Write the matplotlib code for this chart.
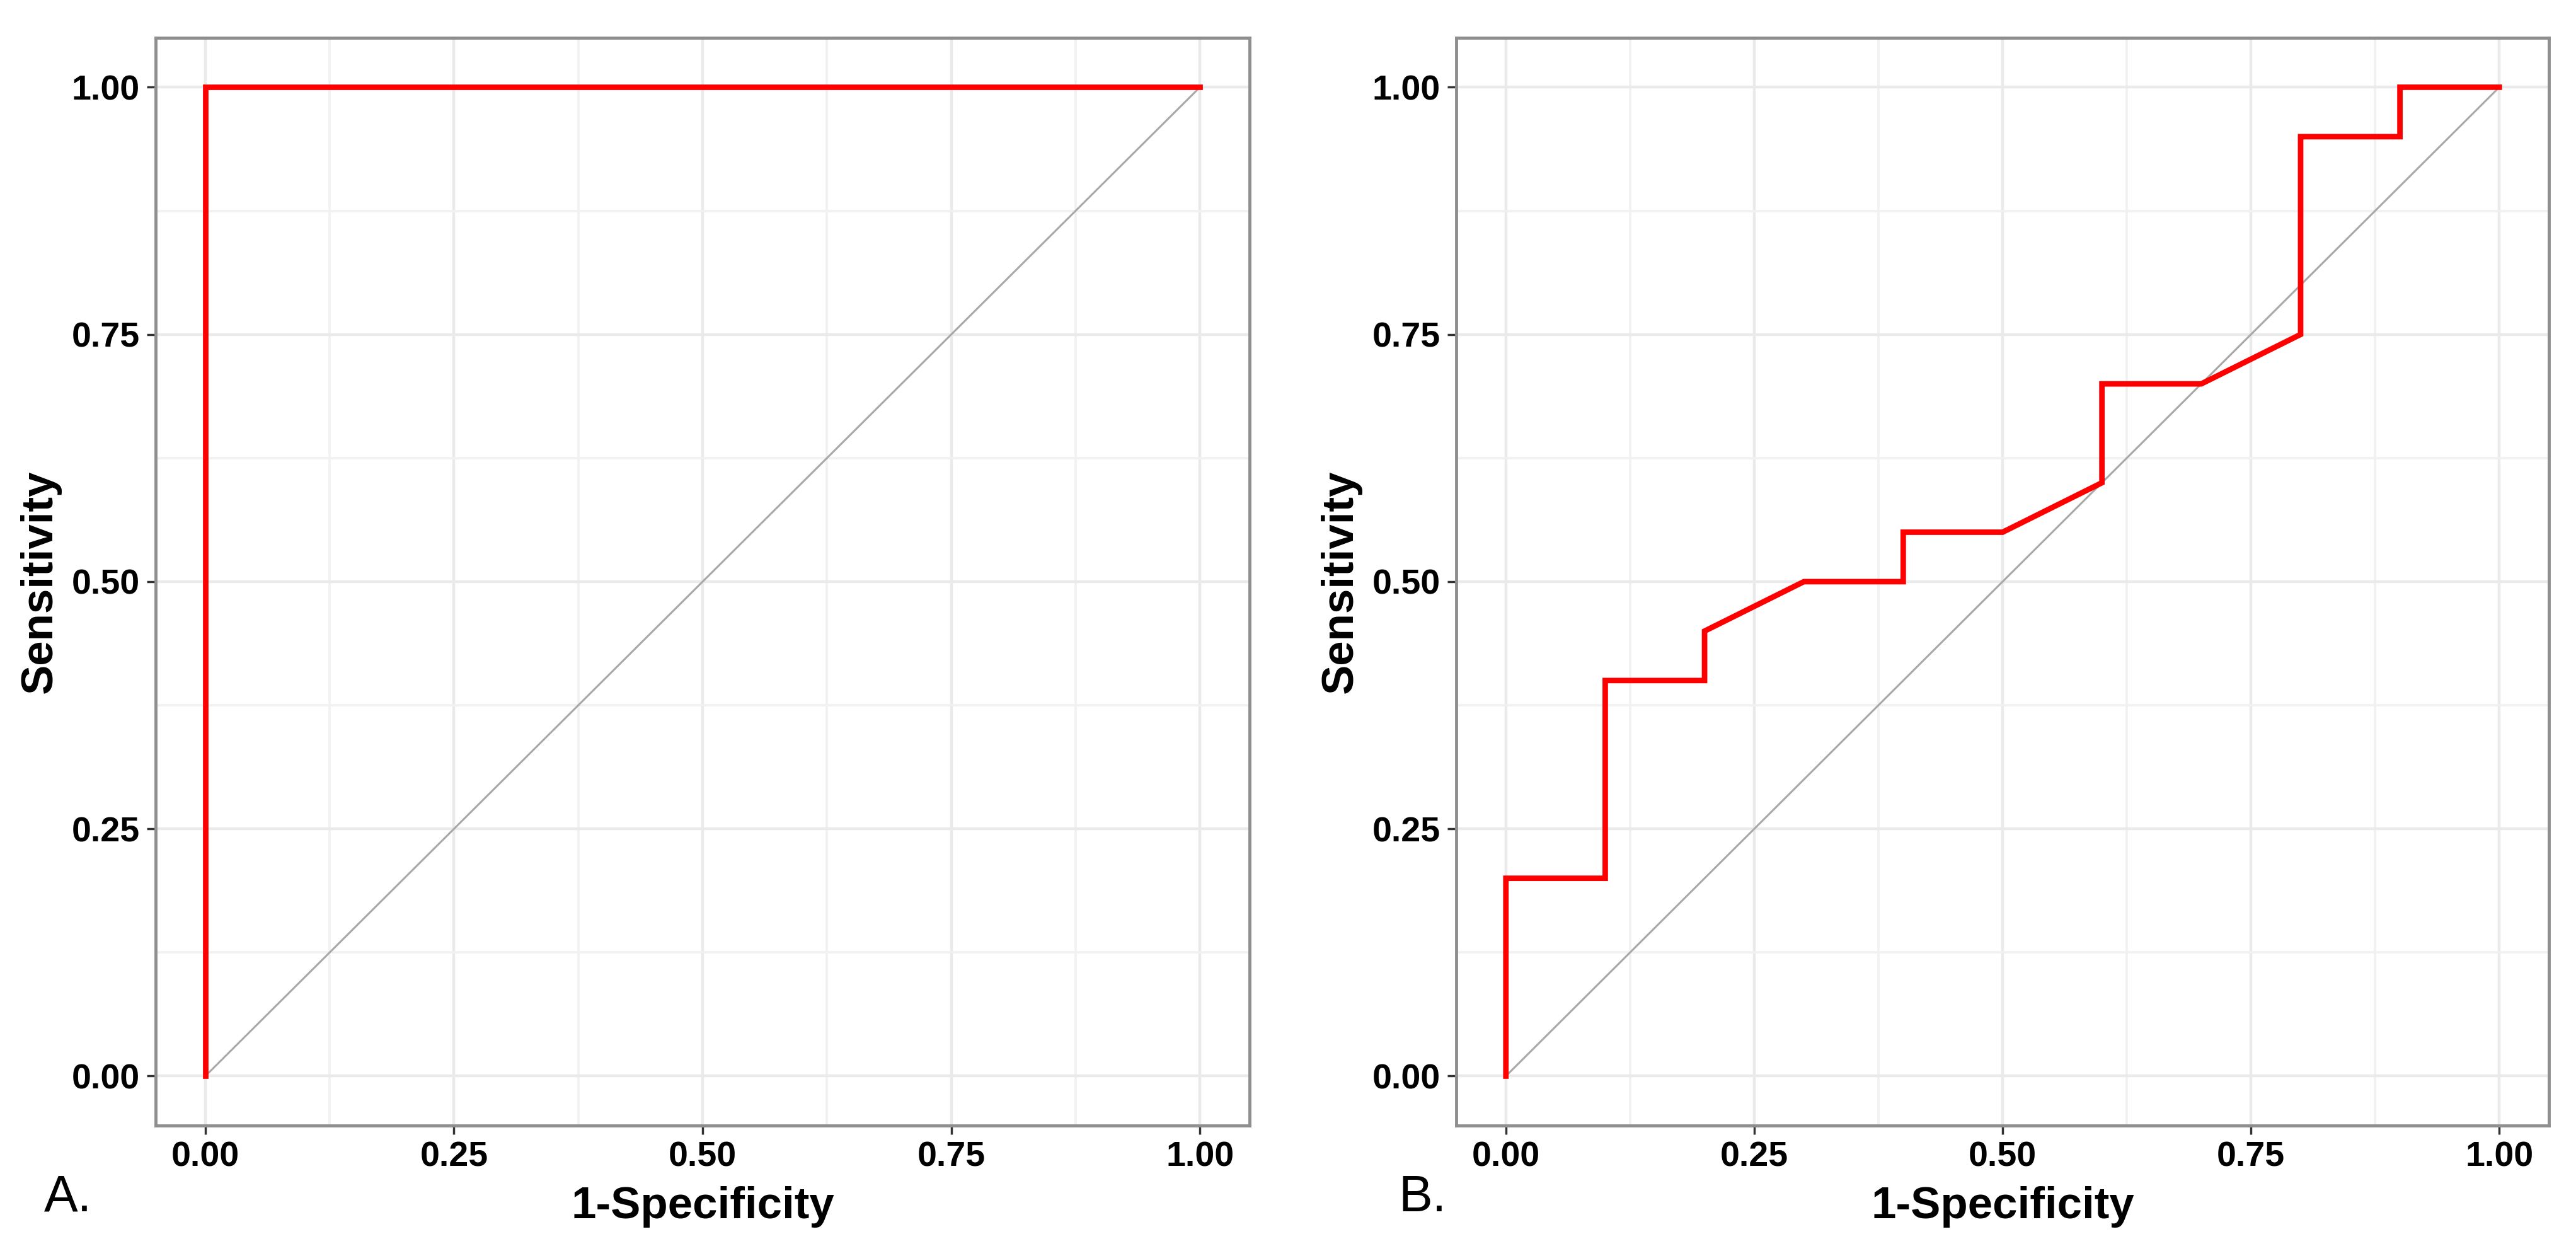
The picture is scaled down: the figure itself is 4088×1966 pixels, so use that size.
import matplotlib.pyplot as plt
import numpy as np

plt.rcParams['font.family'] = ['Liberation Sans', 'DejaVu Sans']

# ROC curve A: perfect classifier
fpr_a = [0.0, 0.0, 1.0]
tpr_a = [0.0, 1.0, 1.0]

# ROC curve B
fpr_b = [0.0, 0.0, 0.1, 0.1, 0.2, 0.2, 0.3, 0.4, 0.4, 0.5, 0.6, 0.6, 0.7, 0.8, 0.8, 0.9, 0.9, 1.0]
tpr_b = [0.0, 0.2, 0.2, 0.4, 0.4, 0.45, 0.5, 0.5, 0.55, 0.55, 0.6, 0.7, 0.7, 0.75, 0.95, 0.95, 1.0, 1.0]

ticks = [0.0, 0.25, 0.50, 0.75, 1.00]
tick_labels = ['0.00', '0.25', '0.50', '0.75', '1.00']
panel_labels = ['A.', 'B.']

fig = plt.figure(figsize=(40.88, 19.66), dpi=100)
ax_a = fig.add_axes([0.0604, 0.0916, 0.4247, 0.8779])
ax_b = fig.add_axes([0.5653, 0.0916, 0.4242, 0.8779])

for ax, fpr, tpr in [(ax_a, fpr_a, tpr_a), (ax_b, fpr_b, tpr_b)]:
    ax.set_xlim(-0.05, 1.05)
    ax.set_ylim(-0.05, 1.05)
    ax.set_xticks(ticks)
    ax.set_yticks(ticks)
    ax.set_xticks(np.arange(0.125, 1.0, 0.25), minor=True)
    ax.set_yticks(np.arange(0.125, 1.0, 0.25), minor=True)
    ax.set_xticklabels(tick_labels, fontsize=40, fontweight='bold')
    ax.set_yticklabels(tick_labels, fontsize=40, fontweight='bold')
    ax.grid(True, which='major', color='#EAEAEA', linewidth=3.2)
    ax.grid(True, which='minor', color='#F1F1F1', linewidth=2.6)
    ax.set_axisbelow(True)
    ax.tick_params(which='major', length=10, width=2.5, color='#333333', pad=8)
    ax.tick_params(which='minor', length=0)
    for sp in ax.spines.values():
        sp.set_color('#8F8F8F')
        sp.set_linewidth(3.5)

    ax.plot([0, 1], [0, 1], color='#A8A8A8', linewidth=2.2, zorder=2)
    ax.plot(fpr, tpr, color='#FF0000', linewidth=6.3, zorder=3,
            solid_joinstyle='miter')

    ax.set_xlabel('1-Specificity', fontsize=51, fontweight='bold', labelpad=14)
    ax.set_ylabel('Sensitivity', fontsize=51, fontweight='bold', labelpad=12)

fig.text(0.0171, 0.0224, panel_labels[0], fontsize=58, ha='left', va='baseline')
fig.text(0.543, 0.0224, panel_labels[1], fontsize=58, ha='left', va='baseline')

fig.savefig('out.png', dpi=100, facecolor='white')
